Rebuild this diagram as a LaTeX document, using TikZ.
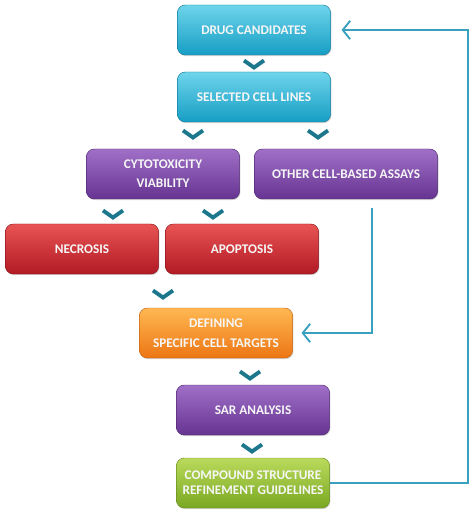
\documentclass[tikz,border=0pt]{standalone}
\usepackage{fontspec}
\setmainfont{Carlito}
\usetikzlibrary{calc,shadows,arrows.meta}

\definecolor{cyanT}{RGB}{110,212,235}
\definecolor{cyanB}{RGB}{22,158,196}
\definecolor{purpT}{RGB}{160,112,200}
\definecolor{purpB}{RGB}{102,52,145}
\definecolor{redT}{RGB}{232,84,84}
\definecolor{redB}{RGB}{178,26,36}
\definecolor{orgT}{RGB}{255,184,82}
\definecolor{orgB}{RGB}{236,118,20}
\definecolor{grnT}{RGB}{186,218,92}
\definecolor{grnB}{RGB}{122,168,34}
\definecolor{chevC}{RGB}{28,118,140}
\definecolor{lineC}{RGB}{58,160,192}
\definecolor{txtC}{RGB}{246,246,246}

\tikzset{
  box/.style={rounded corners=2.4mm, minimum width=4.6cm, minimum height=1.5cm,
    align=center, text=txtC, font=\bfseries\fontsize{11.3}{16}\selectfont,
    drop shadow={opacity=0.35, shadow xshift=0.7pt, shadow yshift=-1pt}},
  cyanbox/.style={box, draw=cyanB!80!black, top color=cyanT, bottom color=cyanB},
  purpbox/.style={box, draw=purpB!80!black, top color=purpT, bottom color=purpB},
  redbox/.style={box, draw=redB!80!black, top color=redT, bottom color=redB},
  orgbox/.style={box, draw=orgB!85!black, top color=orgT, bottom color=orgB},
  grnbox/.style={box, draw=grnB!85!black, top color=grnT, bottom color=grnB},
  chev/.style={draw=chevC, line width=3.3pt, line join=miter},
  feed/.style={draw=lineC, line width=1.6pt,
    -{Straight Barb[length=2.2mm, width=5.5mm, line width=1.6pt]}}
}
\def\chevron(#1){\draw[chev] ($(#1)+(-10,-3.5)$) -- ($(#1)+(0,3.5)$) -- ($(#1)+(10,-3.5)$);}

\begin{document}
\begin{tikzpicture}[x=0.03cm, y=-0.03cm]
  \useasboundingbox (0,0) rectangle (474,517);

  %%%%% BOXES %%%%%
  \node[cyanbox] (drug) at (254,30) {DRUG CANDIDATES};
  \node[cyanbox] (sel) at (254,97) {SELECTED CELL LINES};

  \node[purpbox] (cyto) at (163,174) {CYTOTOXICITY\\VIABILITY};
  \node[purpbox, minimum width=5.5cm] (other) at (346,174) {OTHER CELL-BASED ASSAYS};

  \node[redbox] (necro) at (82,249) {NECROSIS};
  \node[redbox] (apop) at (242,249) {APOPTOSIS};

  \node[orgbox] (def) at (216,333) {DEFINING\\[1pt]SPECIFIC CELL TARGETS};
  \node[purpbox] (sar) at (253,410) {SAR ANALYSIS};
  \node[grnbox, font=\bfseries\fontsize{11.3}{12.5}\selectfont] (comp) at (253,483)
    {COMPOUND STRUCTURE\\REFINEMENT GUIDELINES};

  %%%%% CHEVRONS %%%%%
  \chevron(254,64)
  \chevron(193,134)
  \chevron(318,134)
  \chevron(113,214)
  \chevron(213,214)
  \chevron(163,294)
  \chevron(250,375)
  \chevron(252,448)

  %%%%% FEEDBACK LINES %%%%%
  \coordinate (ob) at (372,208);
  \draw[feed, shorten >=2.6mm] (ob) |- (def.east);

  \coordinate (rt) at (468,37);
  \draw[feed, shorten >=3.2mm] (comp.east) -| (rt) |- (drug.east);
\end{tikzpicture}
\end{document}
